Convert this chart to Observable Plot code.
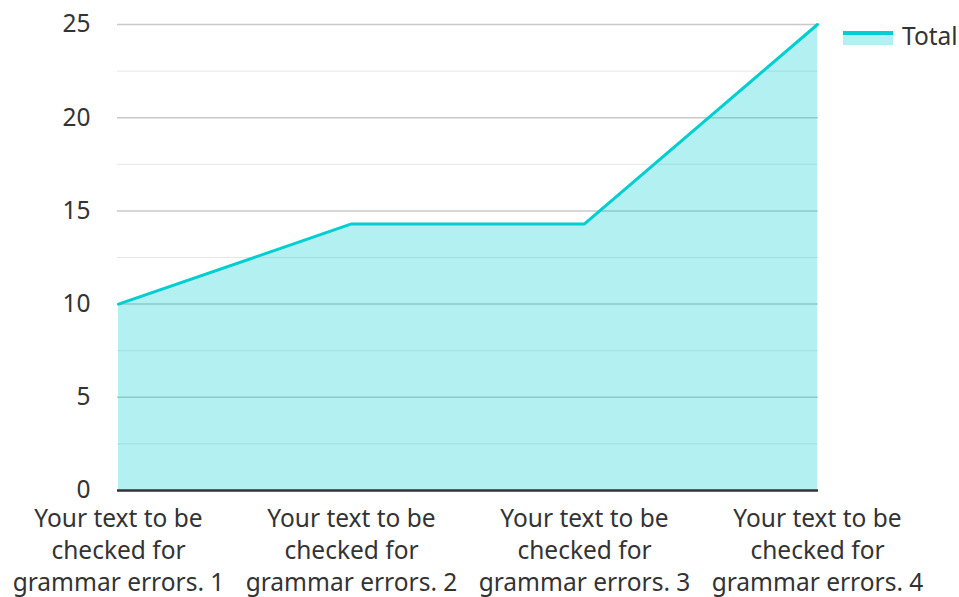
<!DOCTYPE html>
<html>
<head>
<meta charset="utf-8">
<script src="https://cdn.jsdelivr.net/npm/d3@7"></script>
<script src="https://cdn.jsdelivr.net/npm/@observablehq/plot@0.6"></script>
<style>
  html, body { margin: 0; padding: 0; background: #fff; }
  #wrap { position: relative; width: 959px; height: 597px; font-family: "Noto Sans", sans-serif; }
  #legend { position: absolute; left: 843px; top: 19px; display: flex; align-items: center; font-size: 24.5px; color: #333; }
  #legend .sw { width: 50px; height: 16px; position: relative; margin-right: 9px; }
  #legend .sw .fill { position: absolute; left: 0; top: 5px; width: 50px; height: 12px; background: rgba(0,206,209,0.3); }
  #legend .sw .ln { position: absolute; left: 0; top: 3px; width: 50px; height: 4px; background: #00CED1; }
</style>
</head>
<body>
<div id="wrap"></div>
<script>
const categories = [
  "Your text to be\nchecked for\ngrammar errors. 1",
  "Your text to be\nchecked for\ngrammar errors. 2",
  "Your text to be\nchecked for\ngrammar errors. 3",
  "Your text to be\nchecked for\ngrammar errors. 4"
];
const totals = [10, 14.3, 14.3, 25];
const majorTicks = [0, 5, 10, 15, 20, 25];
const minorTicks = [2.5, 7.5, 12.5, 17.5, 22.5];
const seriesName = "Total";

const data = categories.map((c, i) => ({category: c, value: totals[i]}));

const chart = Plot.plot({
  width: 959,
  height: 597,
  marginLeft: 117,
  marginRight: 141,
  marginTop: 24,
  marginBottom: 107,
  style: {fontFamily: "Noto Sans, sans-serif", fontSize: "24.5px", color: "#333", background: "#fff", overflow: "visible"},
  x: {type: "point", domain: categories, padding: 0},
  y: {domain: [0, 25]},
  marks: [
    Plot.ruleY(minorTicks, {stroke: "#e6e6e6", strokeWidth: 1}),
    Plot.ruleY(majorTicks.filter(d => d > 0), {stroke: "#c8c8c8", strokeWidth: 1.5}),
    Plot.areaY(data, {x: "category", y: "value", fill: "#00CED1", fillOpacity: 0.3}),
    Plot.lineY(data, {x: "category", y: "value", stroke: "#00CED1", strokeWidth: 3}),
    Plot.ruleY([0], {stroke: "#333", strokeWidth: 2.5}),
    Plot.axisY({ticks: majorTicks, tickSize: 0, tickPadding: 27, fontSize: 24.5, fill: "#333", label: null}),
    Plot.axisX({tickSize: 0, tickPadding: 14, fontSize: 24.5, fill: "#333", lineHeight: 1.3, lineAnchor: "top", label: null})
  ]
});

const wrap = document.getElementById("wrap");
wrap.appendChild(chart);
const legend = document.createElement("div");
legend.id = "legend";
legend.innerHTML = '<div class="sw"><div class="fill"></div><div class="ln"></div></div><span></span>';
legend.querySelector("span").textContent = seriesName;
wrap.appendChild(legend);
</script>
</body>
</html>
